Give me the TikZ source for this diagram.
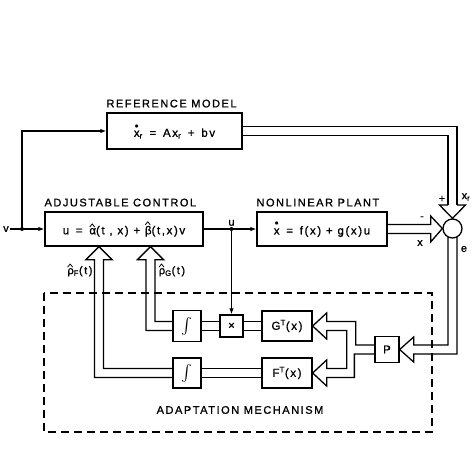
\documentclass[tikz,border=0pt]{standalone}
\usepackage{fontspec}
\usepackage{amsmath}
\setmainfont{Liberation Sans}
\newfontfamily\lab[LetterSpace=14,FakeBold=1]{Liberation Sans}
\newfontfamily\frm[LetterSpace=14,FakeBold=1]{Liberation Sans}
\usetikzlibrary{calc,arrows.meta}
\newcommand\dt[1]{\ensuremath{\overset{\bullet}{\text{#1}}}}
\newsavebox\hbx
\newcommand\hatx[1]{\leavevmode\sbox\hbx{#1}\rlap{\hbox to\wd\hbx{\hss\raisebox{\dimexpr\ht\hbx+1.2pt\relax}{\tikz[baseline=0pt]\draw[line width=0.8pt,line cap=round,line join=round] (0pt,0pt)--(2.4pt,3pt)--(4.8pt,0pt);}\hss\hskip1pt}}\usebox\hbx}
\begin{document}
\begin{tikzpicture}[x=1pt,y=-1pt,
  ln/.style={line width=1.3pt},
  arr/.style={line width=1.3pt,-{Latex[length=6pt,width=4.5pt]}},
  blk/.style={draw,line width=1.3pt,inner sep=0pt,font=\frm\fontsize{11.5}{13}\selectfont},
  ttl/.style={inner sep=0pt,font=\lab\fontsize{11}{13}\selectfont},
  sml/.style={inner sep=1pt,font=\frm\fontsize{11}{13}\selectfont}]
\useasboundingbox (0,0) rectangle (474,463);
% blocks
\node[blk,minimum width=135,minimum height=36] (ref) at (174.5,131) {\dt{x}\textsubscript{r} \,=\, Ax\textsubscript{r} \,+\, bv};
\node[blk,minimum width=158,minimum height=34] (ac) at (124,229) {u \,=\, \hatx{α}(t , x) + \hatx{β}(t,x)v};
\node[blk,minimum width=130,minimum height=34] (plant) at (322,229) {\dt{x} \,=\, f(x) + g(x)u};
\node[draw,circle,line width=1.3pt,fill=white,minimum size=19,inner sep=0] (cmp) at (452.5,228.5) {};
\node[blk,minimum width=23,minimum height=22] (mul) at (231.5,326) {×};
\node[blk,minimum width=28,minimum height=31] (iG) at (187,326) {\scalebox{1.35}{$\int$}};
\node[blk,minimum width=28,minimum height=30] (iF) at (187,373) {\scalebox{1.35}{$\int$}};
\node[blk,minimum width=50,minimum height=30] (G) at (287,326) {G\textsuperscript{T}(x)};
\node[blk,minimum width=50,minimum height=30] (F) at (287,373) {F\textsuperscript{T}(x)};
\node[blk,minimum width=24,minimum height=26] (P) at (387,349.5) {P};
% titles
\node[ttl,anchor=base west] at ($(ref.north west)+(0,-5)$) {REFERENCE MODEL};
\node[ttl,anchor=base west] at ($(ac.north west)+(0,-5)$) {ADJUSTABLE CONTROL};
\node[ttl,anchor=base west] at ($(plant.north west)+(0,-5)$) {NONLINEAR PLANT};
\node[ttl] (am) at (240,410) {ADAPTATION MECHANISM};
\draw[line width=1.3pt,dash pattern=on 8pt off 5pt] (44,293) rectangle (432,432);
% inputs
\node[sml] (vin) at (6,229) {v};
\coordinate (vd) at (22,229);
\draw[arr] (vin.east) -- (ac.west);
\draw[arr] (vd) |- (ref.west);
\fill (vd) circle (2);
\draw[arr] (ac.east) -- (plant.west);
\coordinate (ud) at (231.5,229);
\draw[arr] (ud) -- (mul.north);
\fill (ud) circle (2);
\node[sml,anchor=south] at ($(ud)+(0,-2)$) {u};
% reference double line
\draw[ln] ($(ref.east)+(0,-4.5)$) -| ($(cmp.center)+(4.5,-23.5)$);
\draw[ln] ($(ref.east)+(0,4.5)$) -| ($(cmp.center)+(-4.5,-23.5)$);
\draw[ln] ($(cmp.center)+(-4.5,-23.5)$) -- ++(-8.5,0) -- (cmp.north) -- ($(cmp.center)+(13,-23.5)$) -- ++(-8.5,0);
% plant double line
\draw[ln] ($(plant.east)+(0,-4.5)$) -- ($(plant.east)+(43,-4.5)$) -- ++(0,-8.5) -- (cmp.west) -- ($(plant.east)+(43,13)$) -- ++(0,-8.5) -- ($(plant.east)+(0,4.5)$);
% e double line
\draw[ln] ($(cmp.center)+(-4.5,8)$) |- ($(P.east)+(14,-4.5)$) -- ++(0,-8) -- (P.east) -- ($(P.east)+(14,12.5)$) -- ++(0,-8) -| ($(cmp.center)+(4.5,8)$);
% P to G and F
\draw[ln] ($(P.west)+(0,-4.5)$) -| ($(G.east)+(43,-4.5)$) -- ($(G.east)+(14,-4.5)$) -- ++(0,-8.5) -- (G.east) -- ($(G.east)+(14,13)$) -- ++(0,-8.5) -| ($(F.east)+(34,-4.5)$) -- ($(F.east)+(14,-4.5)$) -- ++(0,-8.5) -- (F.east) -- ($(F.east)+(14,13)$) -- ++(0,-8.5) -| ($(P.west)+(-20,4.5)$) -- ($(P.west)+(0,4.5)$);
% G to mul to iG
\draw[ln] ($(G.west)+(0,-4.5)$) -- ($(mul.east)+(0,-4.5)$);
\draw[ln] ($(G.west)+(0,4.5)$) -- ($(mul.east)+(0,4.5)$);
\draw[ln] ($(mul.west)+(0,-4.5)$) -- ($(iG.east)+(0,-4.5)$);
\draw[ln] ($(mul.west)+(0,4.5)$) -- ($(iG.east)+(0,4.5)$);
\draw[ln] ($(F.west)+(0,-4.5)$) -- ($(iF.east)+(0,-4.5)$);
\draw[ln] ($(F.west)+(0,4.5)$) -- ($(iF.east)+(0,4.5)$);
% iG to adjustable control
\draw[ln] ($(iG.west)+(0,-4.5)$) -| ($(ac.south)+(31,13)$) -- ++(8.5,0) -- ($(ac.south)+(26.5,0)$) -- ($(ac.south)+(13.5,13)$) -- ++(8.5,0) |- ($(iG.west)+(0,4.5)$);
% iF to adjustable control
\draw[ln] ($(iF.west)+(0,-4.5)$) -| ($(ac.south)+(-20.5,13)$) -- ++(8.5,0) -- ($(ac.south)+(-25,0)$) -- ($(ac.south)+(-38,13)$) -- ++(8.5,0) |- ($(iF.west)+(0,4.5)$);
% labels
\node[sml] at (80,270) {\hatx{ρ}\textsubscript{F}(t)};
\node[sml] at (172,270) {\hatx{ρ}\textsubscript{G}(t)};
\node[sml] at (442,199) {+};
\node[sml] at (466,197) {x\textsubscript{r}};
\node[sml] at (422,218) {-};
\node[sml] at (420,243) {x};
\node[sml] at (464,249) {e};
\end{tikzpicture}
\end{document}
